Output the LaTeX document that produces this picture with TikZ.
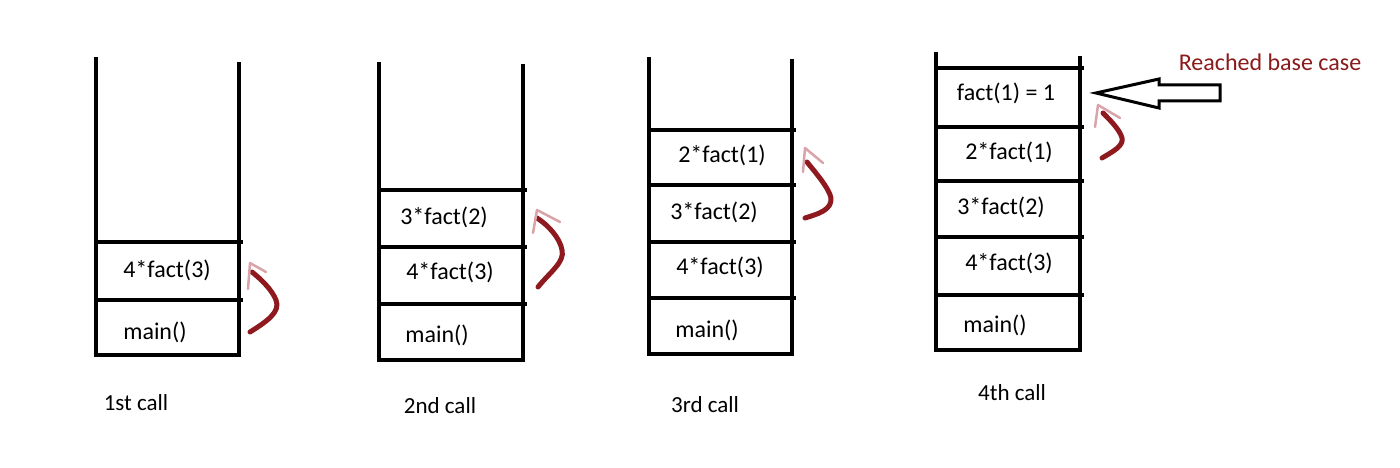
\documentclass[tikz,border=0pt]{standalone}
\usepackage{fontspec}
\setmainfont{Carlito}
\definecolor{curvered}{HTML}{8E1A1F}
\definecolor{curvepink}{HTML}{D9A3AA}
\definecolor{basered}{HTML}{8B1A1A}
\begin{document}
\begin{tikzpicture}[x=1pt,y=-1pt,
  wall/.style={line width=4pt, line join=miter},
  divider/.style={line width=4pt},
  cell/.style={font=\fontsize{24}{28}\selectfont, inner sep=0pt, anchor=center},
  lbl/.style={font=\fontsize{23}{27}\selectfont, inner sep=0pt, anchor=center},
  ret/.style={curvered, line width=5pt, line cap=round, line join=round},
  rethead/.style={curvepink, line width=2.5pt, line cap=round, line join=round}]
\useasboundingbox (0,0) rectangle (1400,468);

% ---------- Stack 1 ----------
\draw[wall] (96,57) -- (96,355) -- (239,355) -- (239,62);
\draw[divider] (96,242) -- (243,242);
\draw[divider] (96,300) -- (243,300);
\node[cell] (s1a) at (167,270) {4*fact(3)};
\node[cell] (s1m) at (155,332) {main()};
\node[lbl] (l1) at (136,403) {1st call};
\draw[ret] (250,332) .. controls (266,322) and (281,312) .. (276,300) .. controls (272,290) and (262,280) .. (252,272);
\draw[rethead] (248,289) -- (250,263) -- (266,272);

% ---------- Stack 2 ----------
\draw[wall] (379,62) -- (379,360) -- (523,360) -- (523,64);
\draw[divider] (379,190) -- (527,190);
\draw[divider] (379,247) -- (527,247);
\draw[divider] (379,304) -- (527,304);
\node[cell] (s2b) at (444,217) {3*fact(2)};
\node[cell] (s2a) at (450,272) {4*fact(3)};
\node[cell] (s2m) at (437,335) {main()};
\node[lbl] (l2) at (440,406) {2nd call};
\draw[ret] (538,287) .. controls (550,272) and (565,262) .. (562,250) .. controls (560,238) and (548,225) .. (537,218);
\draw[rethead] (533,233) -- (537,210) -- (560,222);

% ---------- Stack 3 ----------
\draw[wall] (649,57) -- (649,354) -- (792,354) -- (792,59);
\draw[divider] (649,130) -- (796,130);
\draw[divider] (649,185) -- (796,185);
\draw[divider] (649,242) -- (796,242);
\draw[divider] (649,298) -- (796,298);
\node[cell] (s3c) at (722,155) {2*fact(1)};
\node[cell] (s3b) at (714,212) {3*fact(2)};
\node[cell] (s3a) at (720,267) {4*fact(3)};
\node[cell] (s3m) at (707,330) {main()};
\node[lbl] (l3) at (705,405) {3rd call};
\draw[ret] (805,218) .. controls (818,214) and (832,210) .. (831,198) .. controls (829,188) and (815,172) .. (807,162);
\draw[rethead] (803,172) -- (805,148) -- (823,163);

% ---------- Stack 4 ----------
\draw[wall] (936,52) -- (936,350) -- (1080,350) -- (1080,56);
\draw[divider] (934,68) -- (1084,68);
\draw[divider] (936,127) -- (1084,127);
\draw[divider] (936,181) -- (1084,181);
\draw[divider] (936,237) -- (1084,237);
\draw[divider] (936,295) -- (1084,295);
\node[cell] (s4d) at (1006,93) {fact(1) = 1};
\node[cell] (s4c) at (1009,152) {2*fact(1)};
\node[cell] (s4b) at (1001,207) {3*fact(2)};
\node[cell] (s4a) at (1009,263) {4*fact(3)};
\node[cell] (s4m) at (995,325) {main()};
\node[lbl] (l4) at (1012,393) {4th call};
\draw[ret] (1102,158) .. controls (1112,152) and (1124,146) .. (1122,138) .. controls (1120,130) and (1110,120) .. (1103,113);
\draw[rethead] (1095,127) -- (1098,105) -- (1120,118);

% ---------- Base case marker ----------
\draw[line width=3pt, fill=white, line join=miter]
  (1096,93) -- (1159,79) -- (1159,85) -- (1220,85) -- (1220,101) -- (1159,101) -- (1159,108) -- cycle;
\node[cell, text=basered] (base) at (1270,62) {Reached base case};
\end{tikzpicture}
\end{document}
